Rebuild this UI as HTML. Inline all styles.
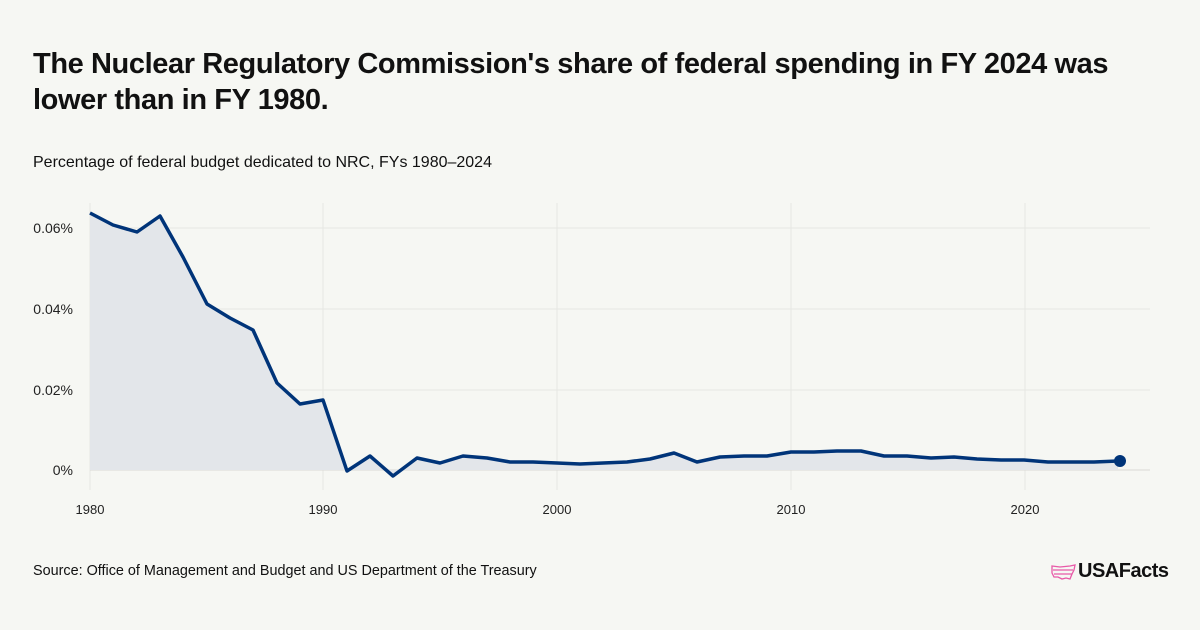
<!DOCTYPE html>
<html><head><meta charset="utf-8"><style>
body{margin:0;background:#f6f7f3;font-family:"Liberation Sans",sans-serif;}
.wrap{position:relative;width:1200px;height:630px;overflow:hidden;background:#f6f7f3}
h1{position:absolute;left:33px;top:46px;margin:0;font-size:29px;line-height:36px;font-weight:bold;color:#111;letter-spacing:-0.4px;width:1080px}
.sub{position:absolute;left:33px;top:154px;font-size:16px;color:#111}
.src{position:absolute;left:33px;top:563px;font-size:14.4px;color:#111}
.logo{position:absolute;left:1078px;top:560px;font-size:20px;font-weight:bold;color:#111;letter-spacing:-0.5px}
</style></head><body><div class="wrap">
<h1>The Nuclear Regulatory Commission's share of federal spending in FY 2024 was lower than in FY 1980.</h1>
<div class="sub">Percentage of federal budget dedicated to NRC, FYs 1980–2024</div>
<svg width="1200" height="630" style="position:absolute;left:0;top:0">
<g stroke="#e6e7e3" stroke-width="1">
<line x1="90" y1="228" x2="1150" y2="228"/><line x1="90" y1="309" x2="1150" y2="309"/><line x1="90" y1="390" x2="1150" y2="390"/>
<line x1="323" y1="203" x2="323" y2="490"/><line x1="557" y1="203" x2="557" y2="490"/><line x1="791" y1="203" x2="791" y2="490"/><line x1="1025" y1="203" x2="1025" y2="490"/><line x1="90" y1="203" x2="90" y2="490"/>
</g>
<line x1="90" y1="470" x2="1150" y2="470" stroke="#d9dad6"/>
<g font-size="14" fill="#222" text-anchor="end">
<text x="73" y="233">0.06%</text><text x="73" y="314">0.04%</text><text x="73" y="395">0.02%</text><text x="73" y="475">0%</text>
</g>
<g font-size="13" fill="#222" text-anchor="middle">
<text x="90" y="514">1980</text><text x="323" y="514">1990</text><text x="557" y="514">2000</text><text x="791" y="514">2010</text><text x="1025" y="514">2020</text>
</g>
<polygon fill="#e3e6ea" points="90,470 90,213 113,225 137,232 160,216 183,257 207,304 230,318 253,330 277,383 300,404 323,400 347,471 370,456 393,476 417,458 440,463 463,456 487,458 510,462 533,462 557,463 580,464 603,463 627,462 650,459 674,453 697,462 720,457 744,456 767,456 791,452 814,452 837,451 861,451 884,456 907,456 931,458 954,457 977,459 1001,460 1024,460 1048,462 1071,462 1094,462 1118,461 1118,470"/>
<polyline fill="none" stroke="#003479" stroke-width="3.5" stroke-linejoin="round" points="90,213 113,225 137,232 160,216 183,257 207,304 230,318 253,330 277,383 300,404 323,400 347,471 370,456 393,476 417,458 440,463 463,456 487,458 510,462 533,462 557,463 580,464 603,463 627,462 650,459 674,453 697,462 720,457 744,456 767,456 791,452 814,452 837,451 861,451 884,456 907,456 931,458 954,457 977,459 1001,460 1024,460 1048,462 1071,462 1094,462 1118,461"/>
<circle cx="1120" cy="461" r="6" fill="#003479"/>
<g fill="none" stroke="#e85aa8" stroke-width="1.3"><path d="M1052 566 l8 1 l10 -1 l5 -1 l-1 5 l-2 4 l-2 5 l-4 -1 l-4 1 l-4 -2 l-4 0 l-2 -4z"/><path d="M1053 570 h20 M1054 574 h18"/></g>
</svg>
<div class="src">Source: Office of Management and Budget and US Department of the Treasury</div>
<div class="logo">USAFacts</div>
</div></body></html>
